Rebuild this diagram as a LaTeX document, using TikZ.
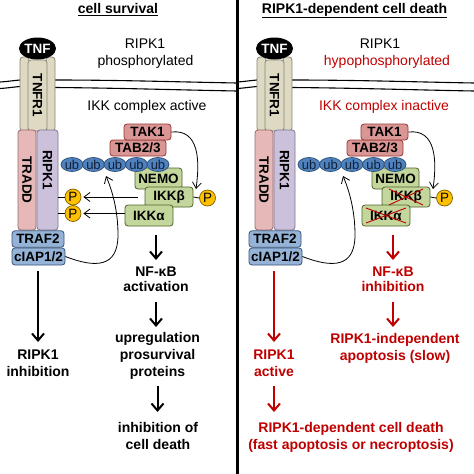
\documentclass[tikz,border=0pt]{standalone}
\usepackage{fontspec}
\setmainfont{Liberation Sans}
\usetikzlibrary{arrows.meta,shapes.geometric,calc}
\definecolor{beige}{HTML}{DDD9C3}
\definecolor{beigeD}{HTML}{8A8570}
\definecolor{pinkb}{HTML}{E6B9B8}
\definecolor{pinkD}{HTML}{9A6A6A}
\definecolor{lav}{HTML}{CCC1DA}
\definecolor{lavD}{HTML}{7F7396}
\definecolor{blueb}{HTML}{95B3D7}
\definecolor{blueD}{HTML}{3A5377}
\definecolor{ubF}{HTML}{4F81BD}
\definecolor{ubD}{HTML}{2C4D75}
\definecolor{ubT}{HTML}{10203A}
\definecolor{takF}{HTML}{D99694}
\definecolor{takD}{HTML}{953735}
\definecolor{grnF}{HTML}{C3D69B}
\definecolor{grnD}{HTML}{4F6228}
\definecolor{pF}{HTML}{FFC000}
\definecolor{pD}{HTML}{7F6000}
\definecolor{redT}{HTML}{C00000}
\newcommand\boxfnt{\fontsize{13.5}{15}\selectfont\bfseries}
\tikzset{
 memb/.style={line width=1.1pt, black},
 shapebox/.style={rounded corners=3pt, line width=0.8pt, inner sep=0pt},
 rcol/.style={shapebox, draw=beigeD, fill=beige},
 tradd/.style={shapebox, draw=pinkD, fill=pinkb},
 ripk/.style={shapebox, draw=lavD, fill=lav},
 bluebox/.style={shapebox, draw=blueD, fill=blueb, font=\boxfnt},
 takbox/.style={shapebox, draw=takD, fill=takF, font=\boxfnt},
 grnbox/.style={shapebox, draw=grnD, fill=grnF, font=\boxfnt},
 ubnode/.style={ellipse, draw=ubD, fill=ubF, line width=0.7pt, inner sep=0pt, minimum width=22pt, minimum height=14pt, font=\fontsize{13}{13}\selectfont, text=ubT},
 pnode/.style={circle, draw=pD, fill=pF, line width=0.7pt, inner sep=0pt, minimum size=16pt, font=\fontsize{13.5}{14}\selectfont},
 thinarr/.style={line width=0.8pt, -{Straight Barb[length=6pt,width=9pt]}},
 bigarr/.style={line width=2pt, -{Straight Barb[length=7pt,width=12pt]}},
 regtxt/.style={font=\fontsize{14}{17}\selectfont, inner sep=0pt, anchor=north},
 boldtxt/.style={font=\fontsize{14}{17}\selectfont\bfseries, align=center, inner sep=0pt, anchor=north},
 boldtxtb/.style={font=\fontsize{14}{15}\selectfont\bfseries, align=center, inner sep=0pt, anchor=north},
 crossline/.style={draw=redT, line width=0.9pt},
}
\newcommand\panelcommon[1]{%
  \draw[memb] (0,82) .. controls (8,81.5) and (14,80.5) .. (20,80) -- (54,80) .. controls (120,80) and (180,82) .. (237,83);
  \draw[memb] (0,88.5) .. controls (8,88) and (14,87) .. (20,86.5) -- (54,87.5) .. controls (120,88) and (180,90) .. (237,91);
  \node[rcol, minimum width=9, minimum height=74] (rl#1) at (24.5,94) {};
  \node[rcol, minimum width=9, minimum height=74] (rr#1) at (50.5,94) {};
  \node[rcol, rotate=-90, minimum width=71, minimum height=19, font=\boxfnt] (tnfr#1) at (37.5,95.5) {TNFR1};
  \node[ellipse, fill=black, minimum width=37, minimum height=22, inner sep=0pt, text=white, font=\boxfnt] (tnf#1) at (37.5,48.5) {TNF};
  \node[tradd, rotate=-90, minimum width=100, minimum height=18, font=\boxfnt] (tradd#1) at (27,180) {TRADD};
  \node[ripk, minimum width=21, minimum height=100] (ripk#1) at (47.5,180) {};
  \node[rotate=-90, font=\boxfnt, inner sep=0pt] (ripkt#1) at (47.5,170) {RIPK1};
  \node[bluebox, minimum width=52, minimum height=16.5] (traf#1) at (38,239) {TRAF2};
  \node[bluebox, minimum width=53, minimum height=17] (ciap#1) at (38.5,256.5) {cIAP1/2};
  \node[takbox, minimum width=56, minimum height=16] (tab#1) at (138,148) {TAB2/3};
  \node[takbox, minimum width=47, minimum height=16] (tak#1) at (147.5,132) {TAK1};
  \node[grnbox, minimum width=47, minimum height=21] (nemo#1) at (158.5,178.5) {NEMO};
  \foreach \i/\x in {1/72,2/93.5,3/115,4/136.5,5/158} \node[ubnode] (ub\i#1) at (\x,164.5) {ub};
  \node[grnbox, minimum width=48, minimum height=20] (ikkb#1) at (169,197) {IKKβ};
  \node[grnbox, minimum width=48, minimum height=21] (ikka#1) at (149,215.5) {IKKα};
  \node[pnode] (pr#1) at (207.5,198) {P};
  \draw[line width=0.8pt] (ikkb#1.east) -- (pr#1.west);
  \coordinate (takt#1) at (196,189);
  \draw[thinarr] (tak#1.east) .. controls (199,129) and (200,160) .. (takt#1);
  \coordinate (ubt#1) at (106,176);
  \draw[thinarr] (ciap#1.east) .. controls (95,268) and (118,268) .. (118,235) .. controls (118,210) and (112,190) .. (ubt#1);
}
\begin{document}
\begin{tikzpicture}[x=1pt,y=-1pt]
\useasboundingbox (0,0) rectangle (474,474);
\fill[white] (0,0) rectangle (474,474);
% titles
\node[boldtxt] (t1) at (118,3) {\underline{cell survival}};
\node[boldtxt] (t2) at (354.5,3) {\underline{RIPK1-dependent cell death}};
% left panel
\panelcommon{L}
\node[pnode] (pa1L) at (73,197) {P};
\node[pnode] (pa2L) at (73,213.5) {P};
\draw[line width=0.8pt] (ripkL.east |- pa1L) -- (pa1L);
\draw[line width=0.8pt] (ripkL.east |- pa2L) -- (pa2L);
\draw[thinarr, shorten <=7pt, shorten >=2pt] (ikkbL.west) -- (pa1L);
\draw[thinarr, shorten >=2pt] (ikkaL.west |- pa2L) -- (pa2L);
\node[regtxt] (rp1L) at (145,39) {RIPK1};
\node[regtxt] (phL) at (145.5,55) {phosphorylated};
\node[regtxt] (ikkL) at (147,100) {IKK complex active};
\node[boldtxtb] (nfL) at (156,267) {NF-κB\\activation};
\node[boldtxt] (upL) at (157.5,332) {upregulation\\prosurvival\\proteins};
\node[boldtxt] (inL) at (158,422) {inhibition of\\cell death};
\node[boldtxt] (riL) at (38,350) {RIPK1\\inhibition};
\draw[bigarr, shorten <=9pt, shorten >=7pt] (ikkaL.south -| nfL.north) -- (nfL.north);
\draw[bigarr] ($(nfL.north)+(0,35)$) -- ($(upL.north -| nfL.north)+(0,-5)$);
\draw[bigarr] ($(upL.north)+(0,54)$) -- ($(inL.north -| upL.north)+(0,-10)$);
\draw[bigarr] ($(ciapL.south -| riL.north)+(0,6)$) -- ($(riL.north)+(0,-8)$);
% right panel
\begin{scope}[xshift=237pt]
\panelcommon{R}
\draw[crossline] ($(ikkbR.center)+(-17,-8)$) -- ($(ikkbR.center)+(17,8)$);
\draw[crossline] ($(ikkbR.center)+(-17,8)$) -- ($(ikkbR.center)+(17,-8)$);
\draw[crossline] ($(ikkaR.center)+(-20,-7.5)$) -- ($(ikkaR.center)+(20,7.5)$);
\draw[crossline] ($(ikkaR.center)+(-20,7.5)$) -- ($(ikkaR.center)+(20,-7.5)$);
\end{scope}
\node[regtxt] (rp1R) at (380,39) {RIPK1};
\node[regtxt, text=redT] (phR) at (387,55) {hypophosphorylated};
\node[regtxt, text=redT] (ikkR) at (384,100) {IKK complex inactive};
\node[boldtxtb, text=redT] (nfR) at (393,267) {NF-κB\\inhibition};
\node[boldtxt, text=redT] (apR) at (395,333) {RIPK1-independent\\apoptosis (slow)};
\node[boldtxt, text=redT] (raR) at (274,350) {RIPK1\\active};
\node[boldtxt, text=redT] (rdR) at (351,422) {RIPK1-dependent cell death\\(fast apoptosis or necroptosis)};
\begin{scope}[draw=redT, color=redT]
\draw[bigarr, shorten <=9pt, shorten >=7pt] (ikkaR.south -| nfR.north) -- (nfR.north);
\draw[bigarr] ($(nfR.north)+(0,35)$) -- ($(apR.north -| nfR.north)+(0,-6)$);
\draw[bigarr] ($(ciapR.south -| raR.north)+(0,6)$) -- ($(raR.north)+(0,-8)$);
\draw[bigarr] ($(raR.north)+(0,36)$) -- ($(rdR.north -| raR.north)+(0,-10)$);
\end{scope}
% divider
\draw[line width=2.5pt] (237.5,0) -- (237.5,474);
\end{tikzpicture}
\end{document}
